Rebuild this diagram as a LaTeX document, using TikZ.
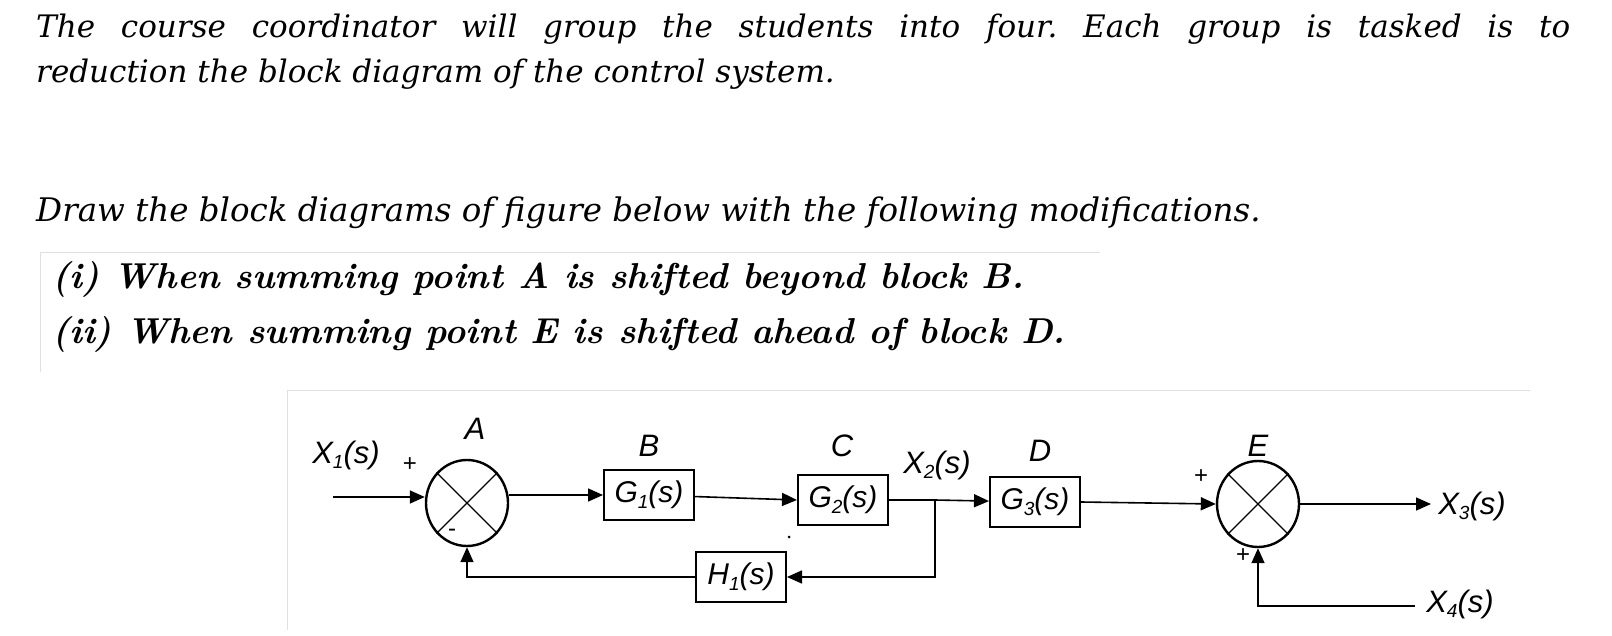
\documentclass[tikz,border=0pt]{standalone}
\usepackage{fontspec}
\setmainfont{DejaVu Serif}
\newfontfamily\diagfont{Liberation Sans}
\newfontfamily\lmit{Latin Modern Roman}
\usetikzlibrary{arrows.meta,shapes.geometric}
\newcommand{\lowsub}[1]{\raisebox{-0.35ex}{\fontsize{19}{19}\selectfont #1}}
\frenchspacing
\begin{document}
\begin{tikzpicture}[x=1pt,y=-1pt,
  blk/.style={draw,line width=2pt,minimum width=90pt,minimum height=50pt,inner sep=0pt,font=\diagfont\itshape\fontsize{30}{30}\selectfont},
  sumpt/.style={draw,ellipse,line width=2.4pt,minimum width=82pt,minimum height=86pt,inner sep=0pt},
  lab/.style={font=\diagfont\itshape\fontsize{31}{31}\selectfont,inner sep=0pt},
  sig/.style={line width=1.6pt,-{Triangle[length=15pt,width=13pt]}},
  ln/.style={line width=1.6pt},
  frame/.style={draw=black!12,line width=0.8pt}]
\useasboundingbox (0,0) rectangle (1612,636);
\fill[white] (0,0) rectangle (1612,636);
% texts
\node[anchor=north west,inner sep=0pt,text width=1534pt,align=justify,font=\itshape\fontsize{31}{45}\selectfont] (t1) at (36,14)
 {The course coordinator will group the students into four. Each group is tasked is to\linebreak reduction the block diagram of the control system.};
\node[anchor=base west,inner sep=0pt,font=\itshape\fontsize{32.5}{45}\selectfont] (t2) at (36,222)
 {Draw the block diagrams of figure below with the following modifications.};
\draw[frame] (40,252) -- (1100,252);
\draw[frame] (40,252) -- (40,372);
\node[anchor=base west,inner sep=0pt,font=\lmit\bfseries\itshape\fontsize{36}{40}\selectfont] (t3) at (52,289)
 {(i) When summing point A is shifted beyond block B.};
\node[anchor=base west,inner sep=0pt,font=\lmit\bfseries\itshape\fontsize{36}{40}\selectfont] (t4) at (52,344)
 {(ii) When summing point E is shifted ahead of block D.};
\draw[frame] (287,390) -- (1530,390);
\draw[frame] (287,390) -- (287,630);
% diagram
\node[sumpt] (A) at (467,503) {};
\draw[line width=1.1pt] (A.45) -- (A.225) (A.135) -- (A.315);
\node[blk] (G1) at (649,495) {G\lowsub{1}(s)};
\node[blk] (G2) at (843,500) {G\lowsub{2}(s)};
\node[blk] (G3) at (1035,502) {G\lowsub{3}(s)};
\node[blk] (H1) at (741,577) {H\lowsub{1}(s)};
\node[sumpt] (E) at (1258,504) {};
\draw[line width=1.1pt] (E.45) -- (E.225) (E.135) -- (E.315);
\coordinate (in) at (333,497);
\coordinate (br) at (935,500);
\coordinate (out) at (1431,504);
\coordinate (x4) at (1415,606);
\draw[sig] (in) -- (A.west |- in);
\draw[sig] (A.east |- G1) -- (G1);
\draw[sig] (G1) -- (G2.west);
\draw[ln] (G2) -- (br);
\draw[sig] (br) -- (G3);
\draw[sig] (G3.east) -- (E.west);
\draw[sig] (E) -- (out);
\draw[sig] (br) |- (H1.east);
\draw[sig] (H1.west) -| (A.south);
\draw[sig] (x4) -| (E.south);
% labels
\node[lab] (lx1) at (346,455) {X\lowsub{1}(s)};
\node[lab] (lA) at (475,429) {A};
\node[lab] (lB) at (649,446) {B};
\node[lab] (lC) at (842,446) {C};
\node[lab] (lx2) at (937,465) {X\lowsub{2}(s)};
\node[lab] (lD) at (1040,451) {D};
\node[lab] (lE) at (1258,446) {E};
\node[lab] (lx3) at (1472,506) {X\lowsub{3}(s)};
\node[lab] (lx4) at (1460,604) {X\lowsub{4}(s)};
\node[lab,font=\diagfont\fontsize{24}{24}\selectfont] (p1) at (410,465) {+};
\node[lab,font=\diagfont\fontsize{24}{24}\selectfont] (m1) at (452,533) {-};
\node[lab,font=\diagfont\fontsize{24}{24}\selectfont] (p2) at (1201,477) {+};
\node[lab,font=\diagfont\fontsize{24}{24}\selectfont] (p3) at (1243,556) {+};
\fill (789,537) circle (1.5pt);
\end{tikzpicture}
\end{document}
